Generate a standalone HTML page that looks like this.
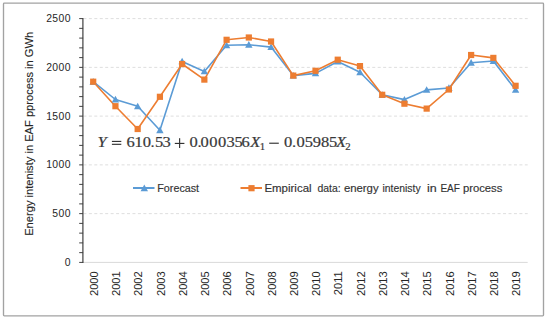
<!DOCTYPE html>
<html><head><meta charset="utf-8"><style>
html,body{margin:0;padding:0;background:#fff;}
body{width:550px;height:321px;overflow:hidden;position:relative;}
svg{position:absolute;left:0;top:0;}
text{font-family:"Liberation Sans",sans-serif;fill:#595959;}
.yl{font-size:10.4px;fill:#262626;letter-spacing:0.45px;}
.xl{font-size:11.2px;fill:#262626;}
.lg{font-size:10.4px;fill:#333;stroke:#333;stroke-width:0.15px;}
.yt{font-size:10.6px;fill:#262626;stroke:#262626;stroke-width:0.12px;}
.eq{font-family:"Liberation Serif",serif;font-size:15px;fill:#383838;stroke:#383838;stroke-width:0.2px;}
.it{font-style:italic;}
.sub{font-size:10.8px;}
</style></head><body>
<svg width="550" height="321" viewBox="0 0 550 321">
<rect x="3.5" y="3.1" width="540" height="312.7" rx="0.8" fill="none" stroke="#a2a2a2" stroke-width="1.35"/>
<line x1="84.1" y1="213.64" x2="527.7" y2="213.64" stroke="#dedede" stroke-width="1" stroke-dasharray="3,2.45" stroke-dashoffset="0.7"/>
<line x1="84.1" y1="164.88" x2="527.7" y2="164.88" stroke="#dedede" stroke-width="1" stroke-dasharray="3,2.45" stroke-dashoffset="0.7"/>
<line x1="84.1" y1="116.12" x2="527.7" y2="116.12" stroke="#dedede" stroke-width="1" stroke-dasharray="3,2.45" stroke-dashoffset="0.7"/>
<line x1="84.1" y1="67.36" x2="527.7" y2="67.36" stroke="#dedede" stroke-width="1" stroke-dasharray="3,2.45" stroke-dashoffset="0.7"/>
<line x1="84.1" y1="18.60" x2="527.7" y2="18.60" stroke="#dedede" stroke-width="1" stroke-dasharray="3,2.45" stroke-dashoffset="0.7"/>
<line x1="82.6" y1="262.4" x2="527.7" y2="262.4" stroke="#d9d9d9" stroke-width="1"/>
<line x1="82.89999999999999" y1="18.1" x2="82.89999999999999" y2="262.9" stroke="#404040" stroke-width="1.2"/>
<line x1="79.19999999999999" y1="262.40" x2="83.1" y2="262.40" stroke="#404040" stroke-width="1"/>
<line x1="79.19999999999999" y1="252.65" x2="83.1" y2="252.65" stroke="#404040" stroke-width="1"/>
<line x1="79.19999999999999" y1="242.90" x2="83.1" y2="242.90" stroke="#404040" stroke-width="1"/>
<line x1="79.19999999999999" y1="233.14" x2="83.1" y2="233.14" stroke="#404040" stroke-width="1"/>
<line x1="79.19999999999999" y1="223.39" x2="83.1" y2="223.39" stroke="#404040" stroke-width="1"/>
<line x1="79.19999999999999" y1="213.64" x2="83.1" y2="213.64" stroke="#404040" stroke-width="1"/>
<line x1="79.19999999999999" y1="203.89" x2="83.1" y2="203.89" stroke="#404040" stroke-width="1"/>
<line x1="79.19999999999999" y1="194.14" x2="83.1" y2="194.14" stroke="#404040" stroke-width="1"/>
<line x1="79.19999999999999" y1="184.38" x2="83.1" y2="184.38" stroke="#404040" stroke-width="1"/>
<line x1="79.19999999999999" y1="174.63" x2="83.1" y2="174.63" stroke="#404040" stroke-width="1"/>
<line x1="79.19999999999999" y1="164.88" x2="83.1" y2="164.88" stroke="#404040" stroke-width="1"/>
<line x1="79.19999999999999" y1="155.13" x2="83.1" y2="155.13" stroke="#404040" stroke-width="1"/>
<line x1="79.19999999999999" y1="145.38" x2="83.1" y2="145.38" stroke="#404040" stroke-width="1"/>
<line x1="79.19999999999999" y1="135.62" x2="83.1" y2="135.62" stroke="#404040" stroke-width="1"/>
<line x1="79.19999999999999" y1="125.87" x2="83.1" y2="125.87" stroke="#404040" stroke-width="1"/>
<line x1="79.19999999999999" y1="116.12" x2="83.1" y2="116.12" stroke="#404040" stroke-width="1"/>
<line x1="79.19999999999999" y1="106.37" x2="83.1" y2="106.37" stroke="#404040" stroke-width="1"/>
<line x1="79.19999999999999" y1="96.62" x2="83.1" y2="96.62" stroke="#404040" stroke-width="1"/>
<line x1="79.19999999999999" y1="86.86" x2="83.1" y2="86.86" stroke="#404040" stroke-width="1"/>
<line x1="79.19999999999999" y1="77.11" x2="83.1" y2="77.11" stroke="#404040" stroke-width="1"/>
<line x1="79.19999999999999" y1="67.36" x2="83.1" y2="67.36" stroke="#404040" stroke-width="1"/>
<line x1="79.19999999999999" y1="57.61" x2="83.1" y2="57.61" stroke="#404040" stroke-width="1"/>
<line x1="79.19999999999999" y1="47.86" x2="83.1" y2="47.86" stroke="#404040" stroke-width="1"/>
<line x1="79.19999999999999" y1="38.10" x2="83.1" y2="38.10" stroke="#404040" stroke-width="1"/>
<line x1="79.19999999999999" y1="28.35" x2="83.1" y2="28.35" stroke="#404040" stroke-width="1"/>
<line x1="79.19999999999999" y1="18.60" x2="83.1" y2="18.60" stroke="#404040" stroke-width="1"/>
<text x="71.05" y="266.00" text-anchor="end" class="yl">0</text>
<text x="71.05" y="217.24" text-anchor="end" class="yl">500</text>
<text x="71.05" y="168.48" text-anchor="end" class="yl">1000</text>
<text x="71.05" y="119.72" text-anchor="end" class="yl">1500</text>
<text x="71.05" y="70.96" text-anchor="end" class="yl">2000</text>
<text x="71.05" y="22.20" text-anchor="end" class="yl">2500</text>
<text transform="translate(97.91,271.2) rotate(-90)" text-anchor="end" class="xl">2000</text>
<text transform="translate(120.14,271.2) rotate(-90)" text-anchor="end" class="xl">2001</text>
<text transform="translate(142.38,271.2) rotate(-90)" text-anchor="end" class="xl">2002</text>
<text transform="translate(164.60,271.2) rotate(-90)" text-anchor="end" class="xl">2003</text>
<text transform="translate(186.83,271.2) rotate(-90)" text-anchor="end" class="xl">2004</text>
<text transform="translate(209.06,271.2) rotate(-90)" text-anchor="end" class="xl">2005</text>
<text transform="translate(231.29,271.2) rotate(-90)" text-anchor="end" class="xl">2006</text>
<text transform="translate(253.52,271.2) rotate(-90)" text-anchor="end" class="xl">2007</text>
<text transform="translate(275.75,271.2) rotate(-90)" text-anchor="end" class="xl">2008</text>
<text transform="translate(297.98,271.2) rotate(-90)" text-anchor="end" class="xl">2009</text>
<text transform="translate(320.21,271.2) rotate(-90)" text-anchor="end" class="xl">2010</text>
<text transform="translate(342.44,271.2) rotate(-90)" text-anchor="end" class="xl">2011</text>
<text transform="translate(364.68,271.2) rotate(-90)" text-anchor="end" class="xl">2012</text>
<text transform="translate(386.91,271.2) rotate(-90)" text-anchor="end" class="xl">2013</text>
<text transform="translate(409.13,271.2) rotate(-90)" text-anchor="end" class="xl">2014</text>
<text transform="translate(431.36,271.2) rotate(-90)" text-anchor="end" class="xl">2015</text>
<text transform="translate(453.59,271.2) rotate(-90)" text-anchor="end" class="xl">2016</text>
<text transform="translate(475.82,271.2) rotate(-90)" text-anchor="end" class="xl">2017</text>
<text transform="translate(498.06,271.2) rotate(-90)" text-anchor="end" class="xl">2018</text>
<text transform="translate(520.29,271.2) rotate(-90)" text-anchor="end" class="xl">2019</text>
<polyline points="93.21,81.70 115.44,99.50 137.68,106.30 159.91,130.20 182.13,61.40 204.37,71.40 226.59,45.30 248.82,44.70 271.06,47.10 293.28,75.60 315.51,73.40 337.75,61.50 359.98,72.20 382.21,94.80 404.43,99.60 426.66,89.90 448.89,88.00 471.12,62.70 493.36,61.00 515.59,89.90" fill="none" stroke="#5b9bd5" stroke-width="1.6" stroke-linejoin="round"/>
<polyline points="93.21,81.70 115.44,106.20 137.68,129.00 159.91,96.80 182.13,64.00 204.37,79.60 226.59,39.80 248.82,37.50 271.06,41.50 293.28,75.60 315.51,70.80 337.75,59.70 359.98,66.10 382.21,94.80 404.43,103.70 426.66,108.60 448.89,89.50 471.12,55.00 493.36,57.90 515.59,85.80" fill="none" stroke="#ed7d31" stroke-width="1.6" stroke-linejoin="round"/>
<polygon points="93.21,78.07 96.91,84.67 89.51,84.67" fill="#5b9bd5"/>
<polygon points="115.44,95.87 119.14,102.47 111.74,102.47" fill="#5b9bd5"/>
<polygon points="137.68,102.67 141.38,109.27 133.98,109.27" fill="#5b9bd5"/>
<polygon points="159.91,126.57 163.60,133.17 156.21,133.17" fill="#5b9bd5"/>
<polygon points="182.13,57.77 185.83,64.37 178.44,64.37" fill="#5b9bd5"/>
<polygon points="204.37,67.77 208.06,74.37 200.67,74.37" fill="#5b9bd5"/>
<polygon points="226.59,41.67 230.29,48.27 222.90,48.27" fill="#5b9bd5"/>
<polygon points="248.82,41.07 252.52,47.67 245.12,47.67" fill="#5b9bd5"/>
<polygon points="271.06,43.47 274.75,50.07 267.36,50.07" fill="#5b9bd5"/>
<polygon points="293.28,71.97 296.98,78.57 289.58,78.57" fill="#5b9bd5"/>
<polygon points="315.51,69.77 319.21,76.37 311.81,76.37" fill="#5b9bd5"/>
<polygon points="337.75,57.87 341.44,64.47 334.05,64.47" fill="#5b9bd5"/>
<polygon points="359.98,68.57 363.68,75.17 356.28,75.17" fill="#5b9bd5"/>
<polygon points="382.21,91.17 385.91,97.77 378.51,97.77" fill="#5b9bd5"/>
<polygon points="404.43,95.97 408.13,102.57 400.73,102.57" fill="#5b9bd5"/>
<polygon points="426.66,86.27 430.36,92.87 422.96,92.87" fill="#5b9bd5"/>
<polygon points="448.89,84.37 452.59,90.97 445.19,90.97" fill="#5b9bd5"/>
<polygon points="471.12,59.07 474.82,65.67 467.43,65.67" fill="#5b9bd5"/>
<polygon points="493.36,57.37 497.06,63.97 489.66,63.97" fill="#5b9bd5"/>
<polygon points="515.59,86.27 519.29,92.87 511.89,92.87" fill="#5b9bd5"/>
<rect x="90.11" y="78.60" width="6.20" height="6.20" fill="#ed7d31"/>
<rect x="112.34" y="103.10" width="6.20" height="6.20" fill="#ed7d31"/>
<rect x="134.58" y="125.90" width="6.20" height="6.20" fill="#ed7d31"/>
<rect x="156.81" y="93.70" width="6.20" height="6.20" fill="#ed7d31"/>
<rect x="179.03" y="60.90" width="6.20" height="6.20" fill="#ed7d31"/>
<rect x="201.27" y="76.50" width="6.20" height="6.20" fill="#ed7d31"/>
<rect x="223.50" y="36.70" width="6.20" height="6.20" fill="#ed7d31"/>
<rect x="245.72" y="34.40" width="6.20" height="6.20" fill="#ed7d31"/>
<rect x="267.95" y="38.40" width="6.20" height="6.20" fill="#ed7d31"/>
<rect x="290.18" y="72.50" width="6.20" height="6.20" fill="#ed7d31"/>
<rect x="312.41" y="67.70" width="6.20" height="6.20" fill="#ed7d31"/>
<rect x="334.64" y="56.60" width="6.20" height="6.20" fill="#ed7d31"/>
<rect x="356.88" y="63.00" width="6.20" height="6.20" fill="#ed7d31"/>
<rect x="379.11" y="91.70" width="6.20" height="6.20" fill="#ed7d31"/>
<rect x="401.33" y="100.60" width="6.20" height="6.20" fill="#ed7d31"/>
<rect x="423.56" y="105.50" width="6.20" height="6.20" fill="#ed7d31"/>
<rect x="445.79" y="86.40" width="6.20" height="6.20" fill="#ed7d31"/>
<rect x="468.02" y="51.90" width="6.20" height="6.20" fill="#ed7d31"/>
<rect x="490.25" y="54.80" width="6.20" height="6.20" fill="#ed7d31"/>
<rect x="512.49" y="82.70" width="6.20" height="6.20" fill="#ed7d31"/>
<line x1="133" y1="188" x2="154.5" y2="188" stroke="#5b9bd5" stroke-width="2"/>
<polygon points="144.30,184.57 148.00,191.17 140.60,191.17" fill="#5b9bd5"/>
<text x="157.3" y="191.5" class="lg" textLength="41.8" lengthAdjust="spacingAndGlyphs">Forecast</text>
<line x1="240.5" y1="188" x2="262" y2="188" stroke="#ed7d31" stroke-width="2"/>
<rect x="248.40" y="185.10" width="6.20" height="6.20" fill="#ed7d31"/>
<text x="264.40" y="191.5" class="lg" textLength="47.20" lengthAdjust="spacingAndGlyphs">Empirical</text>
<text x="317.40" y="191.5" class="lg" textLength="23.20" lengthAdjust="spacingAndGlyphs">data:</text>
<text x="343.90" y="191.5" class="lg" textLength="34.70" lengthAdjust="spacingAndGlyphs">energy</text>
<text x="382.40" y="191.5" class="lg" textLength="38.20" lengthAdjust="spacingAndGlyphs">intenisty</text>
<text x="426.90" y="191.5" class="lg" textLength="9.70" lengthAdjust="spacingAndGlyphs">in</text>
<text x="440.40" y="191.5" class="lg" textLength="19.50" lengthAdjust="spacingAndGlyphs">EAF</text>
<text x="462.90" y="191.5" class="lg" textLength="39.50" lengthAdjust="spacingAndGlyphs">process</text>
<text transform="translate(33.1,235.8) rotate(-90)" class="yt" textLength="204" lengthAdjust="spacingAndGlyphs">Energy intenisty in EAF pprocess in GWh</text>
<text transform="translate(102,147.3) scale(1.1,1)" text-anchor="middle" class="eq it">Y</text>
<text transform="translate(130.6,147.3) scale(1.1,1)" text-anchor="middle" class="eq">6</text>
<text transform="translate(138.6,147.3) scale(1.1,1)" text-anchor="middle" class="eq">1</text>
<text transform="translate(146.8,147.3) scale(1.1,1)" text-anchor="middle" class="eq">0</text>
<text transform="translate(152.6,147.3) scale(1.1,1)" text-anchor="middle" class="eq">.</text>
<text transform="translate(159.2,147.3) scale(1.1,1)" text-anchor="middle" class="eq">5</text>
<text transform="translate(166.7,147.3) scale(1.1,1)" text-anchor="middle" class="eq">3</text>
<text transform="translate(193.6,147.3) scale(1.1,1)" text-anchor="middle" class="eq">0</text>
<text transform="translate(199.6,147.3) scale(1.1,1)" text-anchor="middle" class="eq">.</text>
<text transform="translate(204.5,147.3) scale(1.1,1)" text-anchor="middle" class="eq">0</text>
<text transform="translate(213.3,147.3) scale(1.1,1)" text-anchor="middle" class="eq">0</text>
<text transform="translate(222,147.3) scale(1.1,1)" text-anchor="middle" class="eq">0</text>
<text transform="translate(230.5,147.3) scale(1.1,1)" text-anchor="middle" class="eq">3</text>
<text transform="translate(238.5,147.3) scale(1.1,1)" text-anchor="middle" class="eq">5</text>
<text transform="translate(245.5,147.3) scale(1.1,1)" text-anchor="middle" class="eq">6</text>
<text transform="translate(255.3,147.3) scale(1.1,1)" text-anchor="middle" class="eq it">X</text>
<text transform="translate(288,147.3) scale(1.1,1)" text-anchor="middle" class="eq">0</text>
<text transform="translate(294,147.3) scale(1.1,1)" text-anchor="middle" class="eq">.</text>
<text transform="translate(300.5,147.3) scale(1.1,1)" text-anchor="middle" class="eq">0</text>
<text transform="translate(308.8,147.3) scale(1.1,1)" text-anchor="middle" class="eq">5</text>
<text transform="translate(316.8,147.3) scale(1.1,1)" text-anchor="middle" class="eq">9</text>
<text transform="translate(325,147.3) scale(1.1,1)" text-anchor="middle" class="eq">8</text>
<text transform="translate(333,147.3) scale(1.1,1)" text-anchor="middle" class="eq">5</text>
<text transform="translate(341,147.3) scale(1.1,1)" text-anchor="middle" class="eq it">X</text>
<text x="262.5" y="150" text-anchor="middle" class="eq sub">1</text>
<rect x="111.9" y="140.85" width="9.4" height="1.15" fill="#333"/>
<rect x="111.9" y="143.75" width="9.4" height="1.15" fill="#333"/>
<rect x="174.8" y="142.85" width="9.6" height="1.15" fill="#333"/>
<rect x="179.05" y="138.2" width="1.15" height="9.8" fill="#333"/>
<rect x="269.2" y="142.65" width="9.6" height="1.15" fill="#333"/>
<text x="348" y="150" text-anchor="middle" class="eq sub">2</text>
</svg>
</body></html>
